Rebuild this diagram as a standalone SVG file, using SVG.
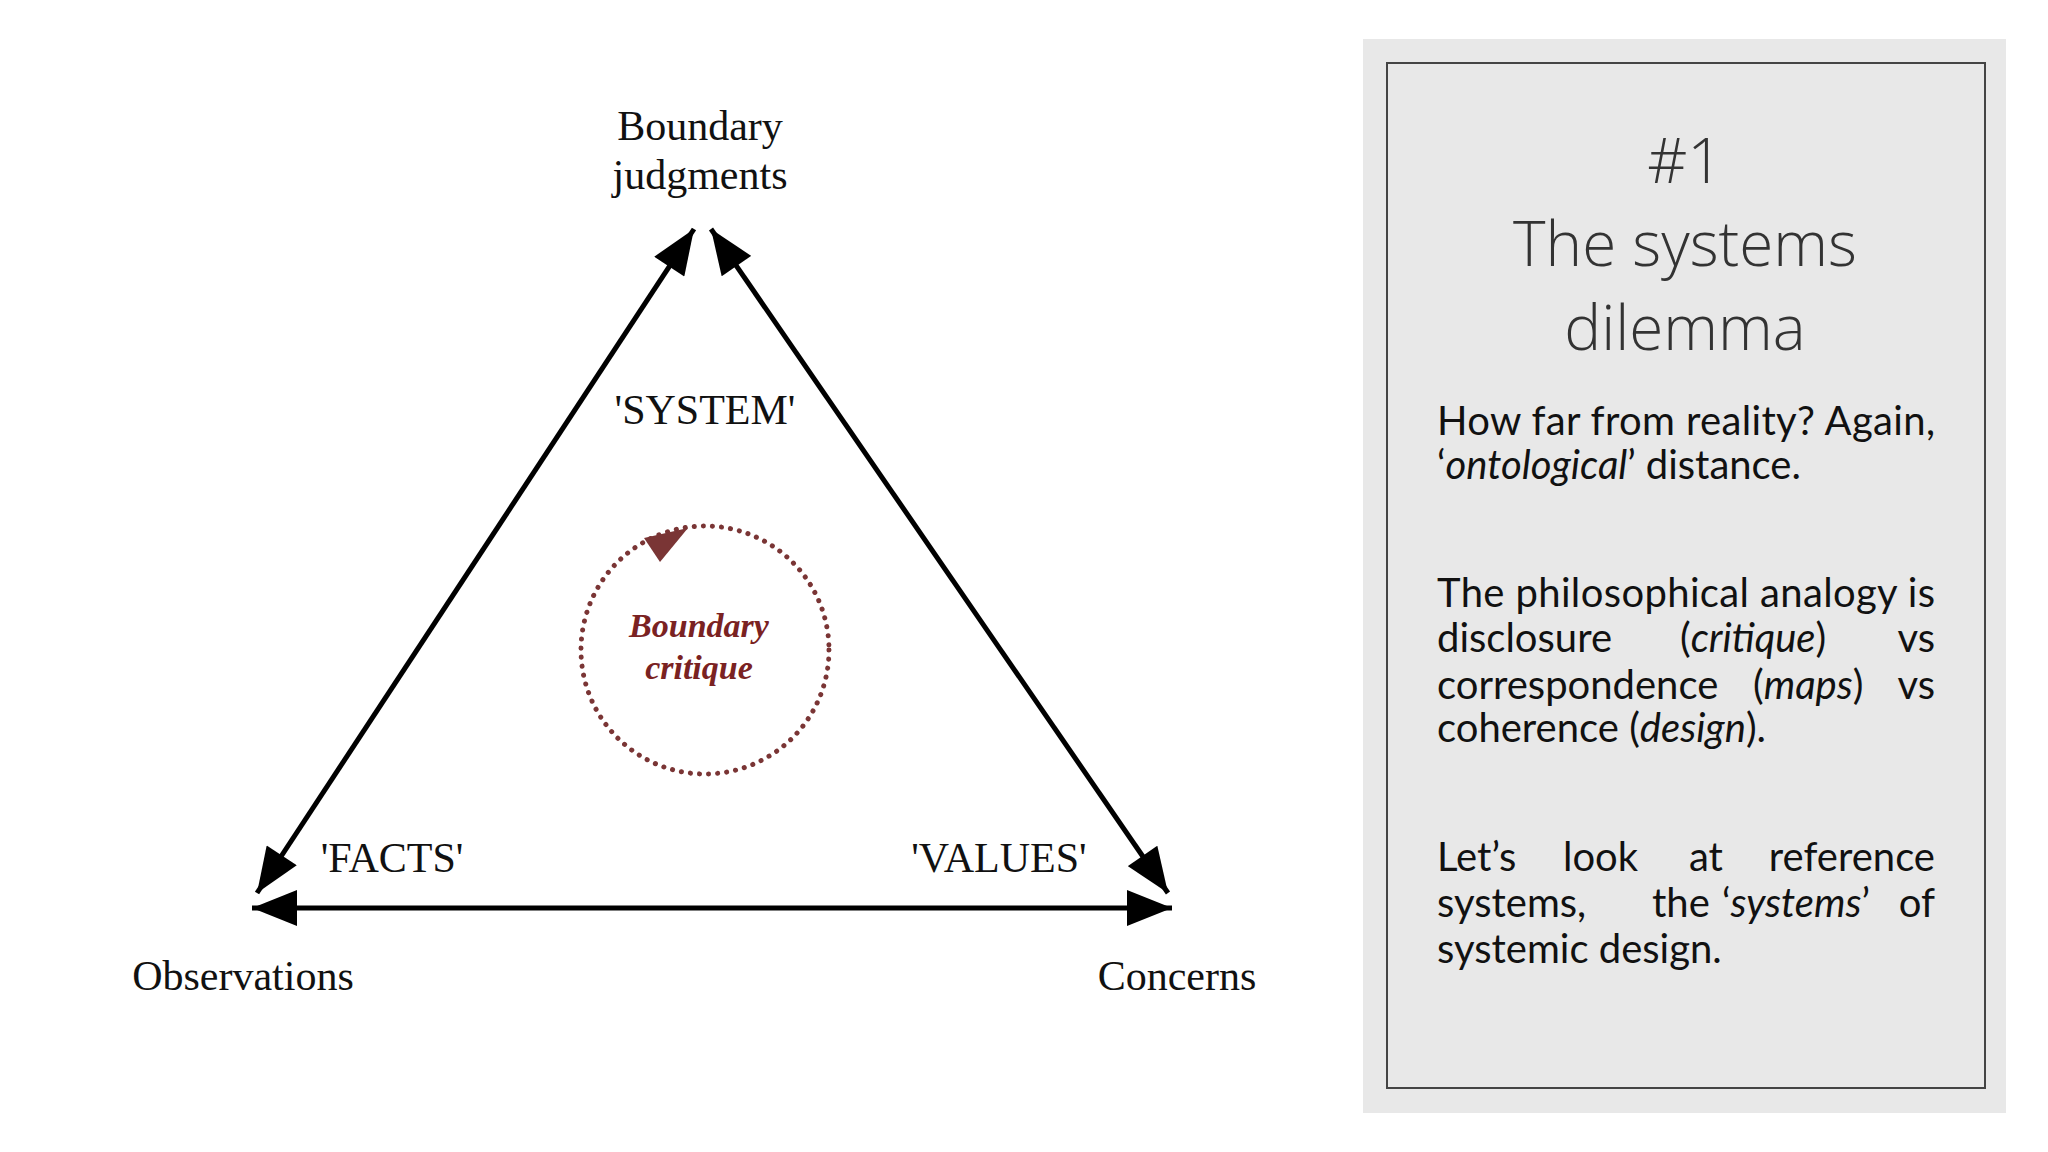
<svg xmlns="http://www.w3.org/2000/svg" width="2048" height="1152" viewBox="0 0 2048 1152">
<defs>
<marker id="big" viewBox="0 0 10 8" refX="10" refY="4" markerWidth="46" markerHeight="36" markerUnits="userSpaceOnUse" orient="auto-start-reverse">
<path d="M0,0 L10,4 L0,8 Z" fill="#000"/>
</marker>
<style>
.lab{font-family:"Liberation Serif",serif;font-size:42px;fill:#111;text-anchor:middle}
.crit{font-family:"Liberation Serif",serif;font-size:34px;font-style:italic;font-weight:bold;fill:#7a2222;text-anchor:middle}
.ttl{font-family:"Open Sans","Lato",sans-serif;font-weight:300;font-size:62px;fill:#333;text-anchor:middle}
.body{font-family:"Lato","Open Sans",sans-serif;font-size:40px;fill:#111}
.end{text-anchor:end}
.edge{stroke:#000;stroke-width:5;fill:none}
</style>
</defs>
<rect width="2048" height="1152" fill="#fff"/>
<g id="panel">
<rect x="1363" y="39" width="643" height="1074" fill="#e8e8e8"/>
<rect x="1387" y="63" width="598" height="1025" fill="none" stroke="#444" stroke-width="2"/>
<text class="ttl" x="1685" y="183">#1</text>
<text class="ttl" x="1685" y="266">The systems</text>
<text class="ttl" x="1685" y="350">dilemma</text>
<text class="body" x="1437" y="435" textLength="498" lengthAdjust="spacing">How far from reality? Again,</text>
<text class="body" x="1437" y="479">‘<tspan font-style="italic">ontological</tspan>’ distance.</text>
<text class="body" x="1437" y="607" textLength="498" lengthAdjust="spacing">The philosophical analogy is</text>
<text class="body" x="1437" y="652">disclosure</text>
<text class="body" x="1680" y="652">(<tspan font-style="italic">critique</tspan>)</text>
<text class="body end" x="1935" y="652">vs</text>
<text class="body" x="1437" y="699">correspondence</text>
<text class="body" x="1753" y="699">(<tspan font-style="italic">maps</tspan>)</text>
<text class="body end" x="1935" y="699">vs</text>
<text class="body" x="1437" y="742">coherence (<tspan font-style="italic">design</tspan>).</text>
<text class="body" x="1437" y="871">Let’s</text>
<text class="body" x="1563" y="871">look</text>
<text class="body" x="1689" y="871">at</text>
<text class="body end" x="1935" y="871">reference</text>
<text class="body" x="1437" y="917">systems,</text>
<text class="body" x="1652" y="917">the</text>
<text class="body" x="1722" y="917">‘<tspan font-style="italic">systems</tspan>’</text>
<text class="body end" x="1935" y="917">of</text>
<text class="body" x="1437" y="963">systemic design.</text>
</g>
<g id="connectors">
<line class="edge" x1="257" y1="893" x2="694" y2="229" marker-start="url(#big)" marker-end="url(#big)"/>
<line class="edge" x1="711" y1="229" x2="1168" y2="893" marker-start="url(#big)" marker-end="url(#big)"/>
<line class="edge" x1="252" y1="908" x2="1172" y2="908" marker-start="url(#big)" marker-end="url(#big)"/>
<circle cx="705" cy="650" r="124" fill="none" stroke="#7a3535" stroke-width="5" stroke-dasharray="0.1 9" stroke-linecap="round"/>
<polygon points="688,528 644,538 660,562" fill="#7a3535"/>
</g>
<g id="n-boundary"><text class="lab" x="700" y="140">Boundary</text><text class="lab" x="700" y="189">judgments</text></g>
<g id="n-system"><text class="lab" x="705" y="424">'SYSTEM'</text></g>
<g id="n-facts"><text class="lab" x="392" y="872">'FACTS'</text></g>
<g id="n-values"><text class="lab" x="999" y="872">'VALUES'</text></g>
<g id="n-obs"><text class="lab" x="243" y="990">Observations</text></g>
<g id="n-concerns"><text class="lab" x="1177" y="990">Concerns</text></g>
<g id="n-critique"><text class="crit" x="699" y="637">Boundary</text><text class="crit" x="699" y="679">critique</text></g>
</svg>
